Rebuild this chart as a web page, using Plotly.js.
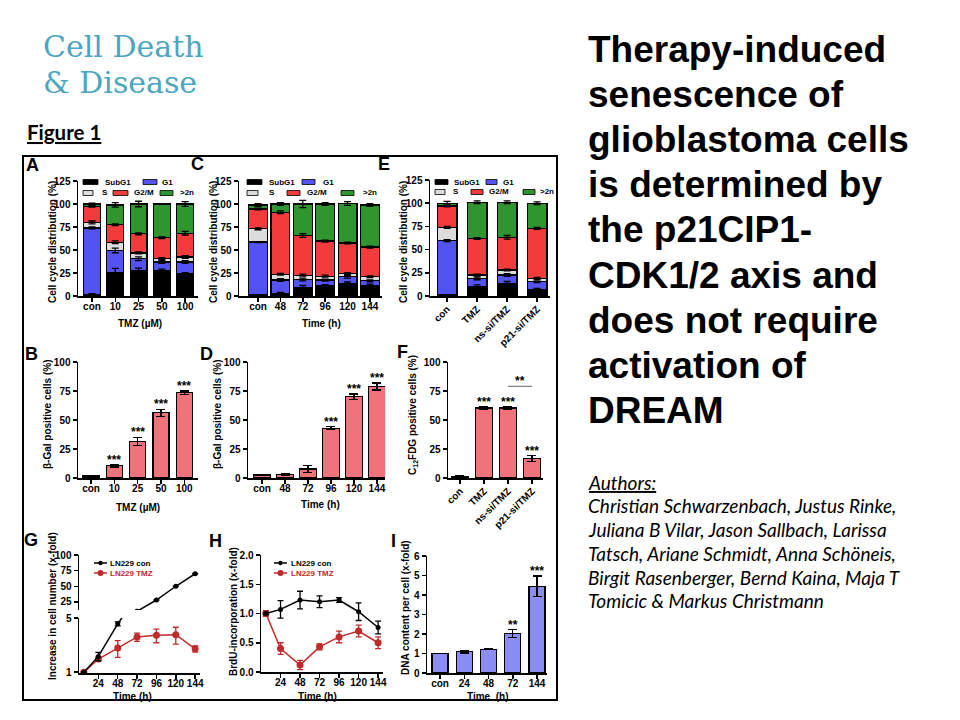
<!DOCTYPE html>
<html><head><meta charset="utf-8">
<script src="https://cdn.plot.ly/plotly-3.0.1.min.js"></script>
<style>html,body{margin:0;padding:0;background:#fff}#chart{width:960px;height:720px}</style>
</head><body><div id="chart"></div>
<script>
// ================= DATA =================
const phases = ['SubG1', 'G1', 'S', 'G2/M', '>2n'];

// Panel A: cell cycle vs TMZ dose
const catsA = ['con', '10', '25', '50', '100'];
const subG1A = [2, 25.5, 27.3, 27.3, 24.5];
const g1A = [72, 24, 13.3, 9.7, 12.5];
const sA = [6, 9, 6.2, 3.6, 5.4];
const g2mA = [17.5, 19, 20.8, 22.7, 25.9];
const gt2nA = [2.5, 21.5, 32.4, 36.7, 31.7];
const subG1Aerr = [0.5, 4.5, 3, 2, 1];
const g1Aerr = [1, 2.5, 2, 1.5, 1.5];
const sAerr = [1.5, 1.5, 1, 1, 1.5];
const g2mAerr = [1, 1, 1, 1, 2];
const gt2nAerr = [1, 2.5, 3, 0.5, 2.5];

// Panel C: cell cycle vs time
const catsC = ['con', '48', '72', '96', '120', '144'];
const subG1C = [1, 2.9, 9.4, 10.8, 13.7, 10.8];
const g1C = [57.6, 14.4, 8.6, 6.5, 7.2, 5.7];
const sC = [14.4, 6.4, 4.7, 4.3, 3.6, 4.4];
const g2mC = [21.6, 67.3, 43.1, 38.1, 33.1, 32.3];
const gt2nC = [4.4, 9, 34.2, 40.3, 42.9, 45.8];
const subG1Cerr = [0.3, 1, 2, 1.5, 1.5, 2];
const g1Cerr = [0.5, 1.5, 1.5, 1, 1.5, 1];
const sCerr = [1, 1, 1, 1, 1, 1];
const g2mCerr = [1, 1.5, 2, 1, 1, 1];
const gt2nCerr = [1.5, 1.5, 4, 1.5, 2, 1.5];

// Panel E: cell cycle, siRNA
const catsE = ['con', 'TMZ', 'ns-si/TMZ', 'p21-si/TMZ'];
const subG1E = [1, 10, 13.6, 7.2];
const g1E = [58.6, 9, 9, 8.2];
const sE = [14.4, 3.6, 5.4, 3.6];
const g2mE = [23, 39.4, 35.2, 53.9];
const gt2nE = [3, 39, 37.8, 27.1];
const subG1Eerr = [0.5, 2, 2, 1];
const g1Eerr = [1, 1.5, 1.5, 1];
const sEerr = [1, 1, 1, 1];
const g2mEerr = [1, 1, 2, 1];
const gt2nEerr = [2, 1.5, 1.5, 1.5];

// Panel B: beta-Gal vs dose
const catsB = ['con', '10', '25', '50', '100'];
const valsB = [1.8, 10.5, 31.5, 56.2, 73.6];
const errB = [0.5, 1, 3.5, 3, 1.5];
const starsB = ['', '***', '***', '***', '***'];

// Panel D: beta-Gal vs time
const catsD = ['con', '48', '72', '96', '120', '144'];
const valsD = [2.6, 3.2, 7.7, 42.9, 70, 78.8];
const errD = [0.5, 0.7, 2.8, 1.2, 2.5, 3];
const starsD = ['', '', '', '***', '***', '***'];

// Panel F: C12FDG
const catsF = ['con', 'TMZ', 'ns-si/TMZ', 'p21-si/TMZ'];
const valsF = [1.1, 60.3, 60.3, 16.7];
const errF = [0.5, 0.8, 0.8, 2.5];
const starsF = ['', '***', '***', '***'];
const bracketF = {from: 2, to: 3, level: 79, label: '**'};

// Panel G: cell number increase
const timeG = [6, 24, 48, 72, 96, 120, 144];
const conG = [1, 1.6, 4.2, 10, 28, 50, 70];
const conGerr = [0.02, 0.2, 0.25, 0, 0, 0, 0];
const tmzG = [1, 1.48, 2.05, 2.85, 3.0, 3.05, 2.0];
const tmzGerr = [0.03, 0.1, 0.5, 0.35, 0.6, 0.75, 0.18];

// Panel H: BrdU incorporation
const timeH = [6, 24, 48, 72, 96, 120, 144];
const conH = [1.0, 1.07, 1.23, 1.2, 1.23, 1.03, 0.76];
const conHerr = [0.02, 0.15, 0.15, 0.1, 0.04, 0.15, 0.11];
const tmzH = [1.0, 0.4, 0.12, 0.43, 0.6, 0.7, 0.5];
const tmzHerr = [0.05, 0.1, 0.08, 0.05, 0.1, 0.1, 0.1];

// Panel I: DNA content
const catsI = ['con', '24', '48', '72', '144'];
const valsI = [1, 1.1, 1.22, 2.02, 4.45];
const errI = [0, 0.07, 0.03, 0.2, 0.52];
const starsI = ['', '', '', '**', '***'];

const seriesNames = ['LN229 con', 'LN229 TMZ'];
const titleLines = ['Therapy-induced', 'senescence of', 'glioblastoma cells', 'is determined by',
  'the p21CIP1-', 'CDK1/2 axis and', 'does not require', 'activation of', 'DREAM'];
const authorLines = ['Christian Schwarzenbach, Justus Rinke,', 'Juliana B Vilar, Jason Sallbach, Larissa',
  'Tatsch, Ariane Schmidt, Anna Schöneis,', 'Birgit Rasenberger, Bernd Kaina, Maja T',
  'Tomicic &amp; Markus Christmann'];

// ================= STYLE =================
const W = 960, H = 720;
const fx = p => p / W, fy = p => 1 - p / H;
const FONT = '"Liberation Sans", Arial, sans-serif';
const phaseColors = ['#000000', '#5353f2', '#dcdcdc', '#f23c3c', '#2f962f'];
const salmon = '#f0737b';
const lavender = '#8c8cf5';
const red = '#bf2a2a';
const tickFont = {family: FONT, size: 10, color: '#000', weight: 'bold'};

const traces = [];
const errTraces = [];
const annotations = [];
const shapes = [];

function txt(x, y, text, size, opts) {
  return Object.assign({xref: 'paper', yref: 'paper', x: fx(x), y: fy(y), text: text, showarrow: false,
    xanchor: 'center', yanchor: 'middle', font: {family: FONT, size: size, color: '#000', weight: 'bold'}}, opts || {});
}

function addStack(cats, vals, errs, xa, ya, w) {
  const cum = cats.map(() => 0);
  phases.forEach((p, k) => {
    traces.push({
      type: 'bar', name: p, x: cats, y: vals[k], xaxis: xa, yaxis: ya, width: w,
      marker: {color: phaseColors[k], line: {color: '#000', width: 1.2}}
    });
    // error bars at the top of each stacked segment, drawn above all bars
    const tops = vals[k].map((v, i) => (cum[i] += v));
    errTraces.push({type: 'scatter', mode: 'markers', x: cats, y: tops, xaxis: xa, yaxis: ya,
      marker: {size: 1, color: 'rgba(0,0,0,0)'},
      error_y: {type: 'data', array: errs[k], color: '#000', thickness: 1.3, width: 3.5}});
  });
}
function addBars(cats, vals, errs, stars, xa, ya, w, color) {
  traces.push({type: 'bar', x: cats, y: vals, xaxis: xa, yaxis: ya, width: w,
    marker: {color: color, line: {color: '#000', width: 1.3}},
    error_y: {type: 'data', array: errs, color: '#000', thickness: 1.3, width: 4.5}});
  cats.forEach((c, i) => {
    if (stars[i]) annotations.push({xref: xa, yref: ya, x: i, y: vals[i] + errs[i], text: stars[i], showarrow: false,
      yanchor: 'bottom', yshift: -4, font: {family: FONT, size: 12, color: '#000', weight: 'bold'}});
  });
}
function addLines(t, y, e, xa, ya, color, msize) {
  traces.push({type: 'scatter', mode: 'lines+markers', x: t, y: y, xaxis: xa, yaxis: ya, cliponaxis: true,
    line: {color: color, width: 1.5}, marker: {color: color, size: msize},
    error_y: {type: 'data', array: e, color: color, thickness: 1.3, width: 3}});
}

addStack(catsA, [subG1A, g1A, sA, g2mA, gt2nA], [subG1Aerr, g1Aerr, sAerr, g2mAerr, gt2nAerr], 'x', 'y', 0.72);
addStack(catsC, [subG1C, g1C, sC, g2mC, gt2nC], [subG1Cerr, g1Cerr, sCerr, g2mCerr, gt2nCerr], 'x2', 'y2', 0.84);
addStack(catsE, [subG1E, g1E, sE, g2mE, gt2nE], [subG1Eerr, g1Eerr, sEerr, g2mEerr, gt2nEerr], 'x3', 'y3', 0.66);
addBars(catsB, valsB, errB, starsB, 'x4', 'y4', 0.69, salmon);
addBars(catsD, valsD, errD, starsD, 'x5', 'y5', 0.72, salmon);
addBars(catsF, valsF, errF, starsF, 'x6', 'y6', 0.7, salmon);
addBars(catsI, valsI, errI, starsI, 'x9', 'y9', 0.66, lavender);
// G: broken axis -> same series on lower (log) and upper (linear) segment
addLines(timeG, tmzG, tmzGerr, 'x7', 'y7', red, 7);
addLines(timeG, conG, conGerr, 'x7', 'y7', '#000', 5);
addLines(timeG, conG, conGerr, 'x7', 'y10', '#000', 5);
addLines(timeH, tmzH, tmzHerr, 'x8', 'y8', red, 7);
addLines(timeH, conH, conHerr, 'x8', 'y8', '#000', 5);

// F bracket
shapes.push({type: 'line', xref: 'x6', yref: 'y6', x0: bracketF.from, x1: bracketF.to, y0: bracketF.level, y1: bracketF.level,
  line: {color: '#888', width: 1.3}});
annotations.push({xref: 'x6', yref: 'y6', x: (bracketF.from + bracketF.to) / 2, y: bracketF.level, text: bracketF.label, showarrow: false,
  yanchor: 'bottom', yshift: -4, font: {family: FONT, size: 12, color: '#000', weight: 'bold'}});

// ---- axes ----
const axBase = {showgrid: false, zeroline: false, showline: true, linecolor: '#000', linewidth: 1.5,
  ticks: 'outside', ticklen: 4, tickwidth: 1.5, tickcolor: '#000', tickfont: tickFont, automargin: false, fixedrange: true};
function xa(l, r, anchor, range, extra) {
  return Object.assign({}, axBase, {domain: [fx(l), fx(r)], anchor: anchor, range: range, ticklabelstandoff: -4}, extra || {});
}
function ya(bottom, top, anchor, range, extra) {
  return Object.assign({}, axBase, {domain: [fy(bottom), fy(top)], anchor: anchor, range: range}, extra || {});
}
const cat = {type: 'category'};
const layout = {
  width: W, height: H, margin: {l: 0, r: 0, t: 0, b: 0}, paper_bgcolor: '#fff', plot_bgcolor: 'rgba(0,0,0,0)',
  showlegend: false, barmode: 'stack', font: {family: FONT, color: '#000'},
  xaxis: xa(78, 198, 'y', [-0.6, 4.55], cat),
  yaxis: ya(296, 181, 'x', [0, 125], {tickvals: [0, 25, 50, 75, 100, 125]}),
  xaxis2: xa(239, 382, 'y2', [-0.85, 5.54], cat),
  yaxis2: ya(296, 181, 'x2', [0, 125], {tickvals: [0, 25, 50, 75, 100, 125]}),
  xaxis3: xa(430, 550, 'y3', [-0.57, 3.43], Object.assign({tickangle: -45, ticklabelstandoff: -2}, cat)),
  yaxis3: ya(296, 180, 'x3', [0, 125], {tickvals: [0, 25, 50, 75, 100, 125]}),
  xaxis4: xa(78, 198, 'y4', [-0.56, 4.59], cat),
  yaxis4: ya(478, 362, 'x4', [0, 100], {tickvals: [0, 25, 50, 75, 100]}),
  xaxis5: xa(248, 385, 'y5', [-0.61, 5.35], cat),
  yaxis5: ya(478, 362, 'x5', [0, 100], {tickvals: [0, 25, 50, 75, 100]}),
  xaxis6: xa(448, 543, 'y6', [-0.5, 3.46], Object.assign({tickangle: -45, ticklabelstandoff: -2}, cat)),
  yaxis6: ya(478, 362, 'x6', [0, 100], {tickvals: [0, 25, 50, 75, 100]}),
  xaxis7: xa(79, 200, 'y7', [0, 150], {tickvals: [24, 48, 72, 96, 120, 144]}),
  yaxis7: ya(673, 618, 'x7', [-0.01, Math.log10(5)], {type: 'log', tickvals: [1, 5], ticktext: ['1', '5']}),
  yaxis10: ya(610, 555, 'x7', [12, 100], {tickvals: [25, 50, 75, 100]}),
  xaxis8: xa(261, 383, 'y8', [0, 150], {tickvals: [24, 48, 72, 96, 120, 144]}),
  yaxis8: ya(672, 555, 'x8', [0, 2], {tickvals: [0, 0.5, 1, 1.5, 2], tickformat: '.1f'}),
  xaxis9: xa(427, 547, 'y9', [-0.54, 4.41], cat),
  yaxis9: ya(673, 556, 'x9', [0, 6], {tickvals: [0, 1, 2, 3, 4, 5, 6]}),
  annotations: annotations, shapes: shapes
};

// ---- axis titles ----
const rot = {textangle: -90};
annotations.push(txt(52, 242, 'Cell cycle distribution (%)', 10, rot));
annotations.push(txt(140, 323, 'TMZ (µM)', 10));
annotations.push(txt(213, 242, 'Cell cycle distribution (%)', 10, rot));
annotations.push(txt(321, 323, 'Time (h)', 10));
annotations.push(txt(403, 242, 'Cell cycle distribution (%)', 10, rot));
annotations.push(txt(48, 415, 'β-Gal positive cells (%)', 10, rot));
annotations.push(txt(138, 507, 'TMZ (µM)', 10));
annotations.push(txt(218, 415, 'β-Gal positive cells (%)', 10, rot));
annotations.push(txt(320, 505, 'Time (h)', 10));
annotations.push(txt(413, 415, 'C<sub>12</sub>FDG positive cells (%)', 10, rot));
annotations.push(txt(52, 606, 'Increase in cell number (x-fold)', 10, rot));
annotations.push(txt(132, 696, 'Time (h)', 10));
annotations.push(txt(233, 612, 'BrdU-incorporation (x-fold)', 10, rot));
annotations.push(txt(317, 696, 'Time (h)', 10));
annotations.push(txt(405, 608, 'DNA content per cell (x-fold)', 10, rot));
annotations.push(txt(487, 696, 'Time  (h)', 10));

// ---- panel letters ----
[['A', 32, 165], ['C', 197, 164], ['E', 384, 164], ['B', 31, 354], ['D', 206, 354], ['F', 402, 352],
 ['G', 31, 540], ['H', 215, 541], ['I', 393, 541]].forEach(([l, x, y]) => annotations.push(txt(x, y, l, 18)));

// ---- legends (keys) ----
const legA = [[83, 98, 103, 182, 0], [143, 157, 160, 182, 1], [83, 93, 100, 193, 2], [113, 128, 132, 193, 3], [160, 173, 178, 193, 4]];
const legC = [[247, 262, 267, 182, 0], [302, 315, 321, 182, 1], [247, 258, 267, 193, 2], [287, 300, 305, 193, 3], [341, 354, 361, 193, 4]];
const legE = [[435, 448, 452, 182, 0], [486, 497, 501, 182, 1], [435, 445, 451, 192, 2], [471, 483, 487, 192, 3], [523, 535, 538, 192, 4]];
[legA, legC, legE].forEach(spec => spec.forEach(([x0, x1, tx, y, k]) => {
  shapes.push({type: 'rect', xref: 'paper', yref: 'paper', x0: fx(x0), x1: fx(x1), y0: fy(y + 2.5), y1: fy(y - 2.5),
    fillcolor: phaseColors[k], line: {color: '#000', width: 0.8}});
  annotations.push(txt(tx, y, phases[k].replace('>', '&gt;'), 8, {xanchor: 'left'}));
}));
const legG = [[94, 107, 108, 563, 0], [94, 107, 108, 573, 1]];
const legH = [[274, 287, 289, 563, 0], [274, 287, 289, 573, 1]];
[legG, legH].forEach(spec => spec.forEach(([x0, x1, tx, y, k]) => {
  const c = k === 0 ? '#000' : red;
  const r = k === 0 ? 2.2 : 3;
  const xm = (x0 + x1) / 2;
  shapes.push({type: 'line', xref: 'paper', yref: 'paper', x0: fx(x0), x1: fx(x1), y0: fy(y), y1: fy(y), line: {color: c, width: 1.5}});
  shapes.push({type: 'circle', xref: 'paper', yref: 'paper', x0: fx(xm - r), x1: fx(xm + r), y0: fy(y + r), y1: fy(y - r),
    fillcolor: c, line: {color: c, width: 0}});
  annotations.push(txt(tx, y, seriesNames[k], 8, {xanchor: 'left', font: {family: FONT, size: 8, color: c, weight: 'bold'}}));
}));

// ---- frame ----
shapes.push({type: 'rect', xref: 'paper', yref: 'paper', x0: fx(23), x1: fx(557), y0: fy(700), y1: fy(156),
  line: {color: '#000', width: 2}});

// ---- slide texts ----
const logoFont = {family: '"DejaVu Serif", serif', size: 30, color: '#4ba6bf'};
annotations.push(txt(41, 46, 'Cell Death', 30, {xanchor: 'left', font: logoFont}));
annotations.push(txt(41, 82, '&amp; Disease', 30, {xanchor: 'left', font: logoFont}));
annotations.push(txt(25, 132, '<u>Figure 1</u>', 20.5, {xanchor: 'left', font: {family: 'Lato, sans-serif', size: 20.5, color: '#000', weight: 'bold'}}));
titleLines.forEach((t, i) => annotations.push(txt(586, 50 + i * 45, t, 37, {xanchor: 'left'})));
const authFont = {family: 'Lato, sans-serif', size: 19, color: '#000'};
annotations.push(txt(586, 483, '<u><i>Authors:</i></u>', 19, {xanchor: 'left', font: authFont}));
authorLines.forEach((t, i) => annotations.push(txt(586, 506 + i * 23.7, '<i>' + t + '</i>', 19,
  {xanchor: 'left', font: authFont})));

Plotly.newPlot('chart', traces.concat(errTraces), layout, {staticPlot: true});
</script></body></html>
